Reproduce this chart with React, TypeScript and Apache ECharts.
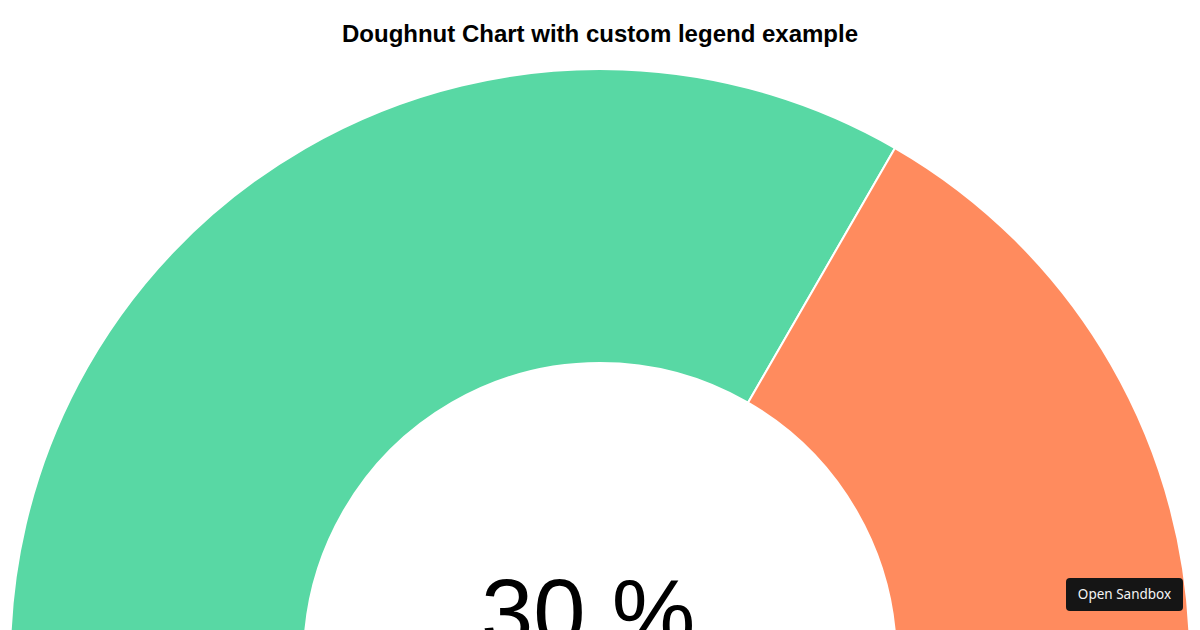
import { useEffect, useRef } from 'react'
import * as echarts from 'echarts'

const segmentNames = ['Completed', 'Remaining']
const segmentValues = [200, 100]
const segmentColors = ['#58D8A4', '#FF8B5E']
const centerLabel = '30 %'

export default function App() {
  const chartRef = useRef<HTMLDivElement>(null)

  useEffect(() => {
    if (!chartRef.current) return
    const chart = echarts.init(chartRef.current, undefined, { renderer: 'svg' })

    const total = segmentValues.reduce((a, b) => a + b, 0)
    const pieData = segmentValues.map((v, i) => ({
      name: segmentNames[i],
      value: v,
      itemStyle: { color: segmentColors[i], borderColor: '#fff', borderWidth: 2 },
    }))
    // hidden bottom half so the doughnut only covers 180 degrees
    pieData.push({
      name: 'hidden',
      value: total,
      itemStyle: { color: 'transparent', borderColor: 'transparent', borderWidth: 0 },
    })

    const option: echarts.EChartsOption = {
      animation: false,
      title: {
        text: 'Doughnut Chart with custom legend example',
        left: 'center',
        top: 16,
        textStyle: {
          fontSize: 24,
          fontWeight: 'bold',
          color: '#000',
          fontFamily: 'Liberation Sans, Arial, sans-serif',
        },
      },
      graphic: [
        {
          type: 'text',
          x: 481,
          y: 612,
          style: {
            text: centerLabel,
            font: '94px "Liberation Sans", Arial, sans-serif',
            fill: '#000',
            verticalAlign: 'middle',
          },
        },
      ],
      series: [
        {
          type: 'pie',
          center: [600, 659],
          radius: [296, 590],
          startAngle: 180,
          clockwise: true,
          silent: true,
          label: { show: false },
          labelLine: { show: false },
          data: pieData,
        },
      ],
    }

    chart.setOption(option)
    return () => chart.dispose()
  }, [])

  return (
    <div style={{ position: 'fixed', left: 0, top: 0, width: 1200, height: 630, background: '#fff' }}>
      <div ref={chartRef} style={{ width: 1200, height: 630 }} />
      <div
        style={{
          position: 'absolute',
          left: 1066,
          top: 578,
          width: 117,
          height: 33,
          background: '#151515',
          borderRadius: 4,
          color: '#f4f4f4',
          fontFamily: '"Noto Sans", sans-serif',
          fontSize: 13.5,
          fontWeight: 400,
          lineHeight: '33px',
          textAlign: 'center',
        }}
      >
        Open Sandbox
      </div>
    </div>
  )
}
